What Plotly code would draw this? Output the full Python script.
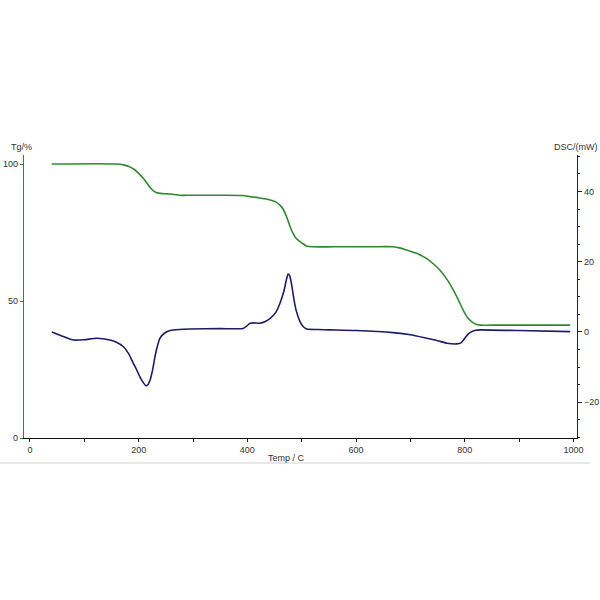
import plotly.graph_objects as go

# TG curve (left axis, %)
tg_temp = [40, 160, 172, 182, 192, 200, 208, 216, 224, 232, 240, 252, 265, 275, 300, 350, 392,
           405, 420, 442, 452, 460, 466, 472, 478, 484, 490, 497, 503, 509, 520, 560, 620, 668, 680,
           693, 710, 730, 742, 754, 767, 779, 788, 797, 805, 813, 820, 828, 850, 900, 994]
tg_val = [100, 100, 99.7, 99.1, 98.0, 96.6, 94.9, 92.8, 90.8, 89.6, 89.3, 89.1, 88.9, 88.6, 88.6, 88.6, 88.5,
          88.1, 87.7, 86.9, 86.2, 85, 83.5, 80.8, 77.5, 74.7, 72.8, 71.7, 70.8, 70.1, 69.8, 69.8, 69.8, 69.8, 69.4,
          68.6, 67.5, 65.5, 63.6, 61.3, 58, 54, 50.5, 46.7, 44, 42.4, 41.6, 41.2, 41.2, 41.2, 41.2]

# DSC curve (right axis, mW)
dsc_temp = [40, 60, 80, 100, 123, 147, 160, 172, 182, 190, 197, 202, 208, 213, 217, 221, 226, 230, 234, 239,
            248, 258, 275, 294, 350, 392, 398, 405, 412, 423, 433, 442, 452, 460, 467, 472, 475, 478, 482,
            486, 490, 497, 503, 509, 530, 552, 600, 668, 700, 730, 750, 767, 785, 793, 800, 806, 813, 820,
            828, 900, 994]
dsc_val = [0, -1.2, -2.3, -2.2, -1.8, -2.3, -3.0, -4.2, -6.3, -8.9, -11, -12.7, -14.3, -15.3, -15.0, -13.7,
           -10.5, -7, -4.3, -1.8, -0.3, 0.4, 0.7, 0.85, 0.95, 1.0, 1.6, 2.5, 2.6, 2.5, 3.0, 3.9, 5.5, 8.2,
           11.5, 15.0, 16.5, 16.0, 13, 9, 6, 2.9, 1.5, 0.85, 0.7, 0.6, 0.4, -0.2, -0.8, -1.8, -2.5, -3.2, -3.4,
           -3.1, -1.8, -0.6, 0.1, 0.5, 0.6, 0.4, 0.1]

x_ticks = [0, 200, 400, 600, 800, 1000]
tg_ticks = [0, 50, 100]
dsc_ticks = [-20, 0, 20, 40]

GREEN = "#2f8a2f"
NAVY = "#1c1c6b"
FONT = "Liberation Sans"

fig = go.Figure()
fig.add_trace(go.Scatter(x=tg_temp, y=tg_val, mode="lines", yaxis="y",
                         line=dict(color=GREEN, width=1.6, shape="spline", smoothing=0.8),
                         showlegend=False))
fig.add_trace(go.Scatter(x=dsc_temp, y=dsc_val, mode="lines", yaxis="y2",
                         line=dict(color=NAVY, width=1.6, shape="spline", smoothing=0.6),
                         showlegend=False))

fig.update_layout(
    width=600, height=600,
    margin=dict(l=24, r=23, t=155, b=162, autoexpand=False),
    paper_bgcolor="white", plot_bgcolor="white",
    font=dict(family=FONT, size=9, color="#333333"),
    xaxis=dict(range=[-11, 1006.5], tickvals=x_ticks, ticks="outside", ticklen=3, tickcolor="#222",
               showline=True, linecolor="#111", linewidth=1.2, showgrid=False, zeroline=False,
               automargin=False,
               minor=dict(dtick=100, tick0=0, ticks="outside", ticklen=3, tickcolor="#222"),
               tickfont=dict(size=9)),
    yaxis=dict(range=[0, 103.3], tickvals=tg_ticks, ticks="outside", ticklen=3, tickcolor=GREEN,
               showline=True, linecolor=GREEN, linewidth=1.2, showgrid=False, zeroline=False,
               automargin=False, tickfont=dict(size=9)),
    yaxis2=dict(range=[-30.2, 50.4], tickvals=dsc_ticks, overlaying="y", side="right", anchor="x",
                ticks="outside", ticklen=4, tickcolor=NAVY, automargin=False,
                minor=dict(dtick=5, tick0=0, ticks="outside", ticklen=2, tickcolor=NAVY),
                showline=True, linecolor=NAVY, linewidth=1.2, showgrid=False, zeroline=False,
                tickfont=dict(size=9)),
    annotations=[
        dict(text="Tg/%", xref="paper", yref="paper", x=-0.005, y=1.0, xanchor="center", yanchor="bottom",
             showarrow=False, font=dict(size=9, family=FONT, color="#333"), yshift=1),
        dict(text="DSC/(mW)", xref="paper", yref="paper", x=0.998, y=1.0, xanchor="center", yanchor="bottom",
             showarrow=False, font=dict(size=9, family=FONT, color="#333"), yshift=1),
        dict(text="Temp / C", xref="paper", yref="paper", x=0.474, y=0, xanchor="center", yanchor="top",
             showarrow=False, font=dict(size=9, family=FONT, color="#333"), yshift=-13),
    ],
    shapes=[
        dict(type="line", xref="paper", yref="paper", x0=-0.0434, x1=1.0235, y0=-0.0883, y1=-0.0883,
             line=dict(color="#d0d0d0", width=1)),
    ],
)

# remove the page's default 8px body margin so the 600x600 figure fills the window
fig.write_html("out.html", post_script="document.body.style.margin='0';",
               config={"displayModeBar": False})
